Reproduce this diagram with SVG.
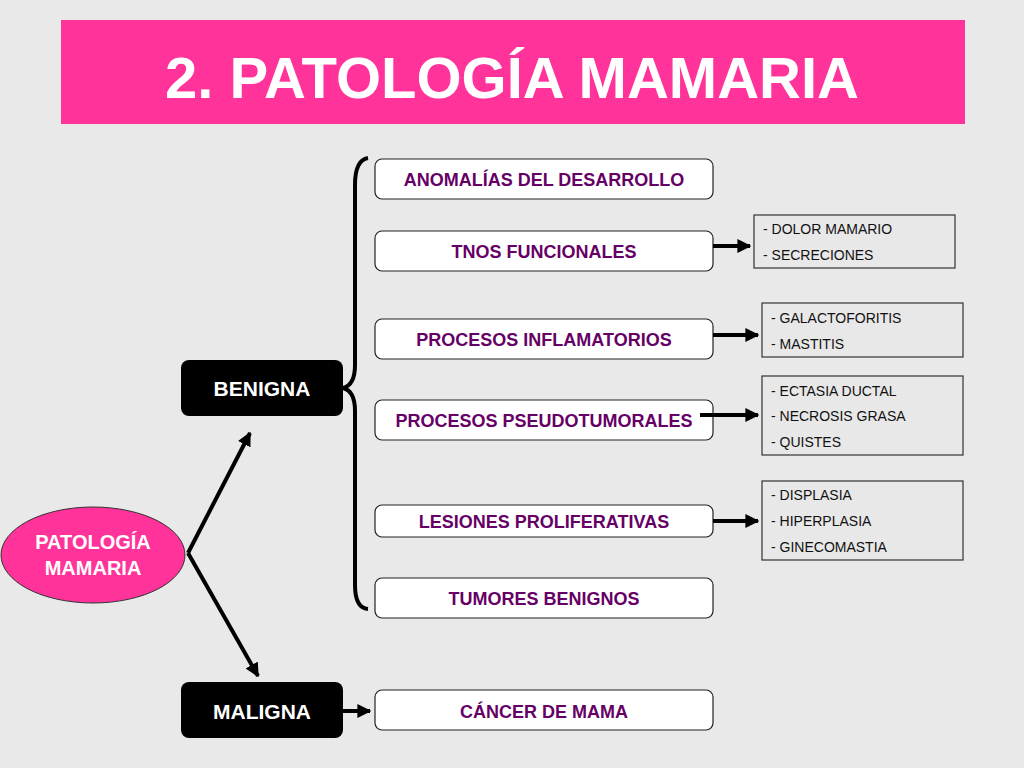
<svg xmlns="http://www.w3.org/2000/svg" width="1024" height="768" viewBox="0 0 1024 768">
<style>
text{font-family:"Liberation Sans",Arial,sans-serif;font-weight:bold}
.b{fill:#fff;stroke:#222;stroke-width:1.2}
.bt{fill:#660066;font-size:18px;text-anchor:middle}
.k{fill:#000}
.kt{fill:#fff;font-size:21px;text-anchor:middle}
.l{fill:#e8e8e8;stroke:#333;stroke-width:1.2}
.lt{font-weight:normal;font-size:14px;fill:#111}
.c{stroke:#000;stroke-width:4;fill:none}
</style>
<defs><marker id="a" viewBox="0 0 10 10" refX="9" refY="5" markerWidth="3.5" markerHeight="3.5" orient="auto"><path d="M0,0L10,5L0,10z" fill="#000"/></marker></defs>
<rect width="1024" height="768" fill="#e9e9e9"/>
<rect x="61" y="20" width="904" height="104" fill="#ff3399"/>
<text x="512" y="98" font-size="58" fill="#fff" text-anchor="middle">2. PATOLOGÍA MAMARIA</text>
<g id="root"><ellipse cx="93" cy="555" rx="92" ry="48" fill="#ff3399" stroke="#333"/><text x="93" y="549" font-size="20" fill="#fff" text-anchor="middle">PATOLOGÍA</text><text x="93" y="575" font-size="20" fill="#fff" text-anchor="middle">MAMARIA</text></g>
<g id="benigna"><rect class="k" x="181" y="360" width="162" height="56" rx="8"/><text class="kt" x="262" y="396">BENIGNA</text></g>
<g id="maligna"><rect class="k" x="181" y="682" width="162" height="56" rx="8"/><text class="kt" x="262" y="719">MALIGNA</text></g>
<g id="n1"><rect class="b" x="375" y="159" width="338" height="40" rx="7"/><text class="bt" x="544" y="186">ANOMALÍAS DEL DESARROLLO</text></g>
<g id="n2"><rect class="b" x="375" y="231" width="338" height="40" rx="7"/><text class="bt" x="544" y="258">TNOS FUNCIONALES</text></g>
<g id="n3"><rect class="b" x="375" y="319" width="338" height="40" rx="7"/><text class="bt" x="544" y="346">PROCESOS INFLAMATORIOS</text></g>
<g id="n4"><rect class="b" x="375" y="400" width="338" height="40" rx="7"/><text class="bt" x="544" y="427">PROCESOS PSEUDOTUMORALES</text></g>
<g id="n5"><rect class="b" x="375" y="505" width="338" height="32" rx="7"/><text class="bt" x="544" y="528">LESIONES PROLIFERATIVAS</text></g>
<g id="n6"><rect class="b" x="375" y="578" width="338" height="40" rx="7"/><text class="bt" x="544" y="605">TUMORES BENIGNOS</text></g>
<g id="n7"><rect class="b" x="375" y="690" width="338" height="40" rx="7"/><text class="bt" x="544" y="718">CÁNCER DE MAMA</text></g>
<g id="l1"><rect class="l" x="754" y="215" width="201" height="53"/><text class="lt" x="763" y="234">- DOLOR MAMARIO</text><text class="lt" x="763" y="260">- SECRECIONES</text></g>
<g id="l2"><rect class="l" x="762" y="303" width="201" height="54"/><text class="lt" x="771" y="323">- GALACTOFORITIS</text><text class="lt" x="771" y="349">- MASTITIS</text></g>
<g id="l3"><rect class="l" x="762" y="376" width="201" height="79"/><text class="lt" x="771" y="396">- ECTASIA DUCTAL</text><text class="lt" x="771" y="421">- NECROSIS GRASA</text><text class="lt" x="771" y="447">- QUISTES</text></g>
<g id="l4"><rect class="l" x="762" y="481" width="201" height="79"/><text class="lt" x="771" y="500">- DISPLASIA</text><text class="lt" x="771" y="526">- HIPERPLASIA</text><text class="lt" x="771" y="552">- GINECOMASTIA</text></g>
<g id="connectors">
<path class="c" d="M368,158 Q355,160 355,185 L355,365 Q355,385 343,388 Q355,391 355,411 L355,585 Q355,608 368,609" stroke-width="3.5"/>
<path class="c" d="M188,553 L250,433" marker-end="url(#a)" stroke-width="3.5"/>
<path class="c" d="M188,553 L258,676" marker-end="url(#a)" stroke-width="3.5"/>
<path class="c" d="M343,711 L370,711" marker-end="url(#a)"/>
<path class="c" d="M713,246 L750,246" marker-end="url(#a)"/>
<path class="c" d="M713,335 L758,335" marker-end="url(#a)"/>
<path class="c" d="M700,415 L758,415" marker-end="url(#a)"/>
<path class="c" d="M713,521 L758,521" marker-end="url(#a)"/>
</g>
</svg>
